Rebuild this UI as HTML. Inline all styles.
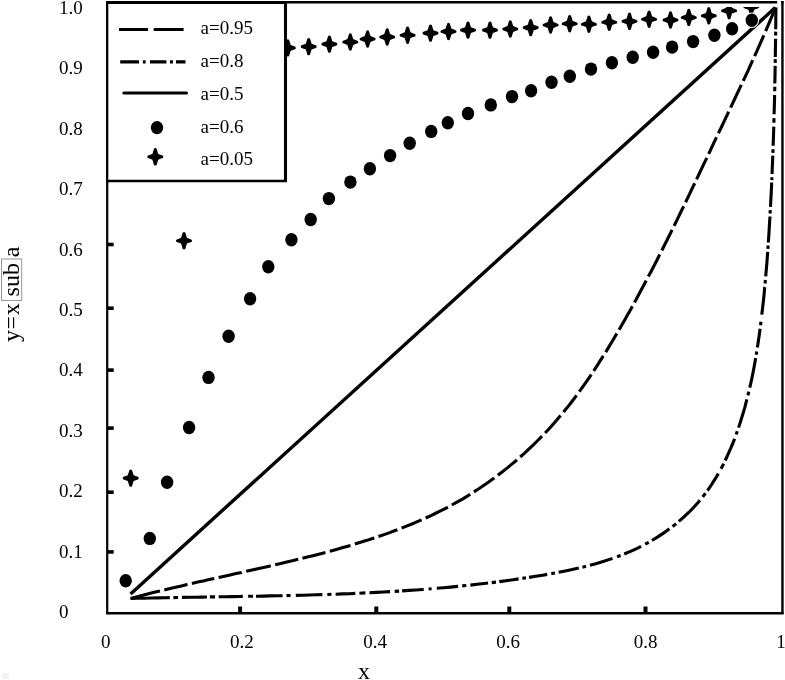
<!DOCTYPE html>
<html lang="en"><head><meta charset="utf-8"><title>y = x sub a</title>
<style>html,body{margin:0;padding:0;background:#fff}svg{display:block}text{font-family:"Liberation Serif","Times New Roman",serif;fill:#000}</style></head><body>
<svg width="785" height="680" viewBox="0 0 785 680">
<rect width="785" height="680" fill="#fff"/>
<rect x="2" y="673" width="6.5" height="6" fill="#f4f4f4"/>
<defs>
<clipPath id="cp"><rect x="108" y="6.9" width="672" height="606"/></clipPath>
</defs>
<g stroke="#000" fill="none">
<line x1="107.2" y1="1" x2="107.2" y2="614" stroke-width="2.2"/>
<line x1="106.1" y1="613.2" x2="783.6" y2="613.2" stroke-width="2.6"/>
<line x1="782.45" y1="1" x2="782.45" y2="614" stroke-width="2.4"/>
<line x1="106.2" y1="2.3" x2="777.2" y2="2.3" stroke-width="2.6"/>
<line x1="781" y1="2.3" x2="783.4" y2="2.3" stroke-width="2.6"/>
</g>
<g fill="#000">
<rect x="108" y="550.1" width="5.7" height="3.6"/>
<rect x="108" y="490.4" width="5.7" height="3.6"/>
<rect x="108" y="426.3" width="5.7" height="3.6"/>
<rect x="108" y="368.3" width="5.7" height="3.6"/>
<rect x="108" y="306.4" width="5.7" height="3.6"/>
<rect x="108" y="242.7" width="5.7" height="3.6"/>
<rect x="238.1" y="606.5" width="4" height="6"/>
<rect x="374.3" y="606.5" width="4" height="6"/>
<rect x="507.3" y="606.5" width="4" height="6"/>
<rect x="643.5" y="606.5" width="4" height="6"/>
</g>
<g stroke="#000" fill="none" stroke-width="3.1">
<line x1="130.6" y1="593.9" x2="775.3" y2="7.6" stroke-width="3.4"/>
<path d="M130.6 598.5 L136.2 597 L141.9 595.5 L147.5 594.1 L153.2 592.6 L158.8 591.2 L160 590.9 M164.3 589.9 L170 588.5 L175.7 587.2 L181.4 585.9 L187.1 584.5 L187.5 584.4 M191.9 583.4 L197.6 582.1 L203.3 580.9 L209 579.6 L214.3 578.4 M218.6 577.4 L224.4 576.2 L230.1 574.9 L235.9 573.6 L241.6 572.4 L241.8 572.3 M246.2 571.3 L252 570.1 L257.7 568.8 L263.5 567.5 L269.2 566.2 L270.8 565.8 M275.2 564.8 L280.9 563.5 L286.7 562.1 L292.4 560.7 L298.2 559.3 M302.5 558.3 L308.3 556.8 L314 555.4 L319.7 553.9 L325.4 552.4 M329.8 551.2 L335.5 549.7 L341.2 548.1 L346.9 546.4 L350.5 545.4 M354.9 544.1 L360.5 542.3 L366.2 540.6 L371.8 538.7 L374.3 537.9 M378.5 536.5 L384.1 534.6 L389.7 532.6 L395.2 530.5 L397.4 529.7 M401.6 528.1 L407.1 525.9 L412.5 523.7 L417.9 521.4 L421.6 519.8 M425.6 518 L431 515.6 L436.2 513 L441.5 510.4 L446.7 507.8 L447.9 507.1 M451.8 505 L456.9 502.2 L462 499.3 L467 496.3 L470.2 494.3 M473.9 491.9 L478.8 488.8 L483.6 485.5 L488.4 482.2 L493.1 478.8 L494.3 477.9 M497.8 475.3 L502.4 471.7 L507 468.1 L511.5 464.4 L516 460.7 L516.9 459.9 M520.2 457 L524.6 453.1 L528.8 449.1 L533.1 445.1 L537.2 441 L541.3 436.9 L542 436.2 M545.1 433 L549.1 428.7 L553 424.4 L556.8 420 L560.6 415.5 M563.5 412.1 L567.2 407.6 L570.8 403 L574.4 398.3 L576.6 395.3 M579.3 391.7 L582.7 386.9 L586.1 382.1 L589.4 377.3 L591.3 374.5 M593.7 370.8 L597 365.9 L600.1 360.9 L603.3 355.9 M605.7 352.1 L608.7 347.1 L611.8 342 L614.8 337 L616.8 333.5 M619.1 329.7 L622.1 324.5 L625 319.4 L627.9 314.3 L630.8 309.2 L632.4 306.3 M634.5 302.4 L637.3 297.2 L640.1 292 L642.9 286.8 L645.7 281.6 L646.2 280.6 M648.3 276.6 L651.1 271.4 L653.8 266.2 L656.5 261 L659.1 255.7 L659.8 254.5 M661.8 250.5 L664.4 245.2 L667.1 240 L669.7 234.7 L672.1 229.9 M674.1 225.9 L676.7 220.6 L679.2 215.3 L681.8 210 L683.7 206.2 M685.6 202.2 L688.2 196.9 L690.7 191.6 L693.2 186.3 L694.7 183.3 M696.6 179.3 L699.1 174 L701.6 168.7 L704.1 163.4 L706.7 158.1 L706.8 157.9 M708.7 153.8 L711.2 148.5 L713.7 143.2 L716.2 137.9 L716.5 137.3 M718.4 133.3 L721 128 L723.5 122.7 L726 117.4 L728.5 112.1 L728.7 111.7 M730.6 107.6 L733.1 102.3 L735.6 97 L738.1 91.7 L740.6 86.4 L741.3 84.9 M743.2 80.9 L745.7 75.6 L748.2 70.3 L750.6 64.9 L752.7 60.2 M754.6 56.2 L757 50.8 L759.4 45.4 L761.7 40.1 L763.8 35.3 M765.6 31.2 L767.9 25.8 L770.2 20.4 L772.5 15 L774.7 9.6 L775.5 7.6"/>
<path d="M130.6 598.5 L137.5 598.3 L144.3 598.2 L151.2 598 L158 597.9 L164.9 597.7 L169.8 597.6 M173.4 597.6 L178.1 597.5 M181.9 597.4 L188.8 597.3 L195.6 597.2 L202.5 597.1 L206.9 597 M209.9 596.9 L215.1 596.9 M218.7 596.8 L225.6 596.7 L232.4 596.6 L239.3 596.5 L242.8 596.4 M248.1 596.3 L253 596.2 M256 596.2 L262.9 596.1 L269.7 595.9 L276.6 595.8 L282.6 595.7 M286.5 595.6 L290.6 595.5 M295.8 595.4 L302.7 595.2 L309.5 595 L316.4 594.8 L322.4 594.6 M327.3 594.5 L331.5 594.3 M335.6 594.2 L342.4 593.9 L349.3 593.7 L355.3 593.4 M359.4 593.2 L365.4 592.9 M369.5 592.7 L376.4 592.4 L383.2 592 L390.1 591.6 M394.7 591.4 L399.1 591.1 M402.1 590.9 L408.9 590.4 L415.8 590 L422.6 589.5 L423.7 589.4 M428.6 589 L431.6 588.7 M436.8 588.3 L443.7 587.7 L450.5 587.1 L457.3 586.4 L458.1 586.4 M462.2 585.9 L466.3 585.5 M470.4 585.1 L477.2 584.3 L484 583.5 L488.1 583 M491.7 582.6 L496 582.1 M499.3 581.6 L506.1 580.7 L512.9 579.8 L518.6 578.9 M522.4 578.4 L526 577.8 M529 577.4 L535.8 576.3 L542.6 575.2 L547.2 574.4 M551.3 573.6 L555 573 M558.6 572.3 L565.3 571 L572.1 569.6 L578.8 568 M582.5 567.2 L586 566.3 M590 565.3 L596.6 563.5 L603.1 561.5 L609.6 559.4 L612.5 558.5 M617.1 556.8 L620.6 555.5 M624.2 554 L630.5 551.4 L636.7 548.6 L641.1 546.4 M645.2 544.2 L648.8 542.3 M651.9 540.5 L657.8 536.9 L663.5 533.1 L669.1 529.1 L669.4 528.9 M672.6 526.5 L676.1 523.7 M678.8 521.4 L684 516.9 L689 512.2 L693.8 507.2 L698.3 502.2 L699.9 500.3 M702.7 496.9 L705.5 493.2 M707.5 490.6 L711.3 485 L715 479.2 L718.3 473.6 M721 468.8 L723.7 463.7 M725.2 460.5 L728.1 454.2 L730.9 447.9 L733.5 441.6 L734.6 438.7 M736.1 434.6 L737.3 431.2 M738.6 427.6 L740.7 421 L742.7 414.5 L744.7 407.9 L746.4 401.2 L746.9 399.4 M747.9 395.4 L748.8 391.7 M749.8 387.7 L751.3 381 L752.7 374.3 L754 367.5 L755.2 360.8 L755.7 358.1 M756.2 354.8 L756.7 351.6 M757.4 347.5 L758.4 340.7 L759.4 333.9 L760.1 328.8 M760.5 325.2 L761 321.7 M761.8 314.6 L762.6 307.8 L763.4 301 L764.1 294.2 L764.7 287.4 L764.8 287.1 M765.1 283.5 L765.4 280 M765.7 276.4 L766.3 269.6 L766.9 262.8 L767.4 255.9 L767.7 251.8 M767.9 248.8 L768.1 245.5 M768.3 242.5 L768.8 235.7 L769.2 228.8 L769.6 222 L770 216.5 M770.1 213.5 L770.3 210.2 M770.5 206.9 L770.8 200.1 L771.2 193.2 L771.5 186.4 L771.7 182.5 M771.8 180.1 L771.9 177.3 M772.1 174 L772.3 167.2 L772.6 160.3 L772.8 155.6 M772.9 152.9 L773 149.3 M773.1 145.8 L773.4 138.9 L773.6 132.1 L773.8 126.6 M773.9 122.7 L774 118.1 M774.1 114.2 L774.3 107.4 L774.5 100.5 L774.6 95 M774.7 91.2 L774.8 86.8 M774.8 83.5 L775 76.6 L775.1 69.8 L775.2 65.9 M775.2 62.9 L775.3 59.1 M775.3 56.9 L775.4 50 L775.5 43.2 L775.6 38.8 M775.6 35.5 L775.7 31.6 M775.7 29.2 L775.8 22.3 L775.8 15.5 L775.9 8.6 L775.9 7.5"/>
</g>
<g clip-path="url(#cp)">
<path transform="translate(130.7 478.1)" d="M1.6 -7.1A1.6 1.6 0 0 0 -1.6 -7.1L-2.9 -2.9L-6.45 -1.55A1.55 1.55 0 0 0 -6.45 1.55L-2.9 2.9L-1.6 7.1A1.6 1.6 0 0 0 1.6 7.1L2.9 2.9L6.45 1.55A1.55 1.55 0 0 0 6.45 -1.55L2.9 -2.9Z"/>
<path transform="translate(184 240.7)" d="M1.6 -7.1A1.6 1.6 0 0 0 -1.6 -7.1L-2.9 -2.9L-6.45 -1.55A1.55 1.55 0 0 0 -6.45 1.55L-2.9 2.9L-1.6 7.1A1.6 1.6 0 0 0 1.6 7.1L2.9 2.9L6.45 1.55A1.55 1.55 0 0 0 6.45 -1.55L2.9 -2.9Z"/>
<path transform="translate(287.8 47.9)" d="M1.6 -7.1A1.6 1.6 0 0 0 -1.6 -7.1L-2.9 -2.9L-6.45 -1.55A1.55 1.55 0 0 0 -6.45 1.55L-2.9 2.9L-1.6 7.1A1.6 1.6 0 0 0 1.6 7.1L2.9 2.9L6.45 1.55A1.55 1.55 0 0 0 6.45 -1.55L2.9 -2.9Z"/>
<path transform="translate(308.7 46.6)" d="M1.6 -7.1A1.6 1.6 0 0 0 -1.6 -7.1L-2.9 -2.9L-6.45 -1.55A1.55 1.55 0 0 0 -6.45 1.55L-2.9 2.9L-1.6 7.1A1.6 1.6 0 0 0 1.6 7.1L2.9 2.9L6.45 1.55A1.55 1.55 0 0 0 6.45 -1.55L2.9 -2.9Z"/>
<path transform="translate(329.4 44.1)" d="M1.6 -7.1A1.6 1.6 0 0 0 -1.6 -7.1L-2.9 -2.9L-6.45 -1.55A1.55 1.55 0 0 0 -6.45 1.55L-2.9 2.9L-1.6 7.1A1.6 1.6 0 0 0 1.6 7.1L2.9 2.9L6.45 1.55A1.55 1.55 0 0 0 6.45 -1.55L2.9 -2.9Z"/>
<path transform="translate(350.3 42)" d="M1.6 -7.1A1.6 1.6 0 0 0 -1.6 -7.1L-2.9 -2.9L-6.45 -1.55A1.55 1.55 0 0 0 -6.45 1.55L-2.9 2.9L-1.6 7.1A1.6 1.6 0 0 0 1.6 7.1L2.9 2.9L6.45 1.55A1.55 1.55 0 0 0 6.45 -1.55L2.9 -2.9Z"/>
<path transform="translate(367.6 39)" d="M1.6 -7.1A1.6 1.6 0 0 0 -1.6 -7.1L-2.9 -2.9L-6.45 -1.55A1.55 1.55 0 0 0 -6.45 1.55L-2.9 2.9L-1.6 7.1A1.6 1.6 0 0 0 1.6 7.1L2.9 2.9L6.45 1.55A1.55 1.55 0 0 0 6.45 -1.55L2.9 -2.9Z"/>
<path transform="translate(387.2 37)" d="M1.6 -7.1A1.6 1.6 0 0 0 -1.6 -7.1L-2.9 -2.9L-6.45 -1.55A1.55 1.55 0 0 0 -6.45 1.55L-2.9 2.9L-1.6 7.1A1.6 1.6 0 0 0 1.6 7.1L2.9 2.9L6.45 1.55A1.55 1.55 0 0 0 6.45 -1.55L2.9 -2.9Z"/>
<path transform="translate(407.6 35.2)" d="M1.6 -7.1A1.6 1.6 0 0 0 -1.6 -7.1L-2.9 -2.9L-6.45 -1.55A1.55 1.55 0 0 0 -6.45 1.55L-2.9 2.9L-1.6 7.1A1.6 1.6 0 0 0 1.6 7.1L2.9 2.9L6.45 1.55A1.55 1.55 0 0 0 6.45 -1.55L2.9 -2.9Z"/>
<path transform="translate(430.5 33.1)" d="M1.6 -7.1A1.6 1.6 0 0 0 -1.6 -7.1L-2.9 -2.9L-6.45 -1.55A1.55 1.55 0 0 0 -6.45 1.55L-2.9 2.9L-1.6 7.1A1.6 1.6 0 0 0 1.6 7.1L2.9 2.9L6.45 1.55A1.55 1.55 0 0 0 6.45 -1.55L2.9 -2.9Z"/>
<path transform="translate(448.5 31.5)" d="M1.6 -7.1A1.6 1.6 0 0 0 -1.6 -7.1L-2.9 -2.9L-6.45 -1.55A1.55 1.55 0 0 0 -6.45 1.55L-2.9 2.9L-1.6 7.1A1.6 1.6 0 0 0 1.6 7.1L2.9 2.9L6.45 1.55A1.55 1.55 0 0 0 6.45 -1.55L2.9 -2.9Z"/>
<path transform="translate(468 30.1)" d="M1.6 -7.1A1.6 1.6 0 0 0 -1.6 -7.1L-2.9 -2.9L-6.45 -1.55A1.55 1.55 0 0 0 -6.45 1.55L-2.9 2.9L-1.6 7.1A1.6 1.6 0 0 0 1.6 7.1L2.9 2.9L6.45 1.55A1.55 1.55 0 0 0 6.45 -1.55L2.9 -2.9Z"/>
<path transform="translate(490 30.1)" d="M1.6 -7.1A1.6 1.6 0 0 0 -1.6 -7.1L-2.9 -2.9L-6.45 -1.55A1.55 1.55 0 0 0 -6.45 1.55L-2.9 2.9L-1.6 7.1A1.6 1.6 0 0 0 1.6 7.1L2.9 2.9L6.45 1.55A1.55 1.55 0 0 0 6.45 -1.55L2.9 -2.9Z"/>
<path transform="translate(510.3 29)" d="M1.6 -7.1A1.6 1.6 0 0 0 -1.6 -7.1L-2.9 -2.9L-6.45 -1.55A1.55 1.55 0 0 0 -6.45 1.55L-2.9 2.9L-1.6 7.1A1.6 1.6 0 0 0 1.6 7.1L2.9 2.9L6.45 1.55A1.55 1.55 0 0 0 6.45 -1.55L2.9 -2.9Z"/>
<path transform="translate(530.7 27.6)" d="M1.6 -7.1A1.6 1.6 0 0 0 -1.6 -7.1L-2.9 -2.9L-6.45 -1.55A1.55 1.55 0 0 0 -6.45 1.55L-2.9 2.9L-1.6 7.1A1.6 1.6 0 0 0 1.6 7.1L2.9 2.9L6.45 1.55A1.55 1.55 0 0 0 6.45 -1.55L2.9 -2.9Z"/>
<path transform="translate(550.6 25)" d="M1.6 -7.1A1.6 1.6 0 0 0 -1.6 -7.1L-2.9 -2.9L-6.45 -1.55A1.55 1.55 0 0 0 -6.45 1.55L-2.9 2.9L-1.6 7.1A1.6 1.6 0 0 0 1.6 7.1L2.9 2.9L6.45 1.55A1.55 1.55 0 0 0 6.45 -1.55L2.9 -2.9Z"/>
<path transform="translate(569.7 23.7)" d="M1.6 -7.1A1.6 1.6 0 0 0 -1.6 -7.1L-2.9 -2.9L-6.45 -1.55A1.55 1.55 0 0 0 -6.45 1.55L-2.9 2.9L-1.6 7.1A1.6 1.6 0 0 0 1.6 7.1L2.9 2.9L6.45 1.55A1.55 1.55 0 0 0 6.45 -1.55L2.9 -2.9Z"/>
<path transform="translate(588.9 24.2)" d="M1.6 -7.1A1.6 1.6 0 0 0 -1.6 -7.1L-2.9 -2.9L-6.45 -1.55A1.55 1.55 0 0 0 -6.45 1.55L-2.9 2.9L-1.6 7.1A1.6 1.6 0 0 0 1.6 7.1L2.9 2.9L6.45 1.55A1.55 1.55 0 0 0 6.45 -1.55L2.9 -2.9Z"/>
<path transform="translate(609.2 22.2)" d="M1.6 -7.1A1.6 1.6 0 0 0 -1.6 -7.1L-2.9 -2.9L-6.45 -1.55A1.55 1.55 0 0 0 -6.45 1.55L-2.9 2.9L-1.6 7.1A1.6 1.6 0 0 0 1.6 7.1L2.9 2.9L6.45 1.55A1.55 1.55 0 0 0 6.45 -1.55L2.9 -2.9Z"/>
<path transform="translate(629.5 21.3)" d="M1.6 -7.1A1.6 1.6 0 0 0 -1.6 -7.1L-2.9 -2.9L-6.45 -1.55A1.55 1.55 0 0 0 -6.45 1.55L-2.9 2.9L-1.6 7.1A1.6 1.6 0 0 0 1.6 7.1L2.9 2.9L6.45 1.55A1.55 1.55 0 0 0 6.45 -1.55L2.9 -2.9Z"/>
<path transform="translate(649.1 19.2)" d="M1.6 -7.1A1.6 1.6 0 0 0 -1.6 -7.1L-2.9 -2.9L-6.45 -1.55A1.55 1.55 0 0 0 -6.45 1.55L-2.9 2.9L-1.6 7.1A1.6 1.6 0 0 0 1.6 7.1L2.9 2.9L6.45 1.55A1.55 1.55 0 0 0 6.45 -1.55L2.9 -2.9Z"/>
<path transform="translate(670.5 20)" d="M1.6 -7.1A1.6 1.6 0 0 0 -1.6 -7.1L-2.9 -2.9L-6.45 -1.55A1.55 1.55 0 0 0 -6.45 1.55L-2.9 2.9L-1.6 7.1A1.6 1.6 0 0 0 1.6 7.1L2.9 2.9L6.45 1.55A1.55 1.55 0 0 0 6.45 -1.55L2.9 -2.9Z"/>
<path transform="translate(688.8 17.5)" d="M1.6 -7.1A1.6 1.6 0 0 0 -1.6 -7.1L-2.9 -2.9L-6.45 -1.55A1.55 1.55 0 0 0 -6.45 1.55L-2.9 2.9L-1.6 7.1A1.6 1.6 0 0 0 1.6 7.1L2.9 2.9L6.45 1.55A1.55 1.55 0 0 0 6.45 -1.55L2.9 -2.9Z"/>
<path transform="translate(708.8 15.8)" d="M1.6 -7.1A1.6 1.6 0 0 0 -1.6 -7.1L-2.9 -2.9L-6.45 -1.55A1.55 1.55 0 0 0 -6.45 1.55L-2.9 2.9L-1.6 7.1A1.6 1.6 0 0 0 1.6 7.1L2.9 2.9L6.45 1.55A1.55 1.55 0 0 0 6.45 -1.55L2.9 -2.9Z"/>
<path transform="translate(729.1 10.7)" d="M1.6 -7.1A1.6 1.6 0 0 0 -1.6 -7.1L-2.9 -2.9L-6.45 -1.55A1.55 1.55 0 0 0 -6.45 1.55L-2.9 2.9L-1.6 7.1A1.6 1.6 0 0 0 1.6 7.1L2.9 2.9L6.45 1.55A1.55 1.55 0 0 0 6.45 -1.55L2.9 -2.9Z"/>
<path transform="translate(751.3 6.9)" d="M1.6 -7.1A1.6 1.6 0 0 0 -1.6 -7.1L-2.9 -2.9L-6.45 -1.55A1.55 1.55 0 0 0 -6.45 1.55L-2.9 2.9L-1.6 7.1A1.6 1.6 0 0 0 1.6 7.1L2.9 2.9L6.45 1.55A1.55 1.55 0 0 0 6.45 -1.55L2.9 -2.9Z"/>
<g fill="#000" stroke="#fff" stroke-width="2.2" paint-order="stroke">
<ellipse cx="125.7" cy="580.7" rx="6.2" ry="6.7"/>
<ellipse cx="149.8" cy="538.4" rx="6.2" ry="6.7"/>
<ellipse cx="167.1" cy="482.3" rx="6.2" ry="6.7"/>
<ellipse cx="189.1" cy="427.5" rx="6.2" ry="6.7"/>
<ellipse cx="208.5" cy="377.4" rx="6.2" ry="6.7"/>
<ellipse cx="228.6" cy="336.3" rx="6.2" ry="6.7"/>
<ellipse cx="250.1" cy="298.7" rx="6.2" ry="6.7"/>
<ellipse cx="268.3" cy="266.8" rx="6.2" ry="6.7"/>
<ellipse cx="291.4" cy="239.7" rx="6.2" ry="6.7"/>
<ellipse cx="310.7" cy="219.5" rx="6.2" ry="6.7"/>
<ellipse cx="328.9" cy="198.6" rx="6.2" ry="6.7"/>
<ellipse cx="350.4" cy="182.1" rx="6.2" ry="6.7"/>
<ellipse cx="369.9" cy="168.8" rx="6.2" ry="6.7"/>
<ellipse cx="390.1" cy="155.6" rx="6.2" ry="6.7"/>
<ellipse cx="409.7" cy="143.3" rx="6.2" ry="6.7"/>
<ellipse cx="431.2" cy="131.4" rx="6.2" ry="6.7"/>
<ellipse cx="447.8" cy="122.8" rx="6.2" ry="6.7"/>
<ellipse cx="468" cy="113.5" rx="6.2" ry="6.7"/>
<ellipse cx="490.8" cy="104.9" rx="6.2" ry="6.7"/>
<ellipse cx="512" cy="96.6" rx="6.2" ry="6.7"/>
<ellipse cx="531.1" cy="90.7" rx="6.2" ry="6.7"/>
<ellipse cx="551.5" cy="82.3" rx="6.2" ry="6.7"/>
<ellipse cx="569.8" cy="76.2" rx="6.2" ry="6.7"/>
<ellipse cx="591" cy="69.1" rx="6.2" ry="6.7"/>
<ellipse cx="611.9" cy="62.7" rx="6.2" ry="6.7"/>
<ellipse cx="632.7" cy="57.3" rx="6.2" ry="6.7"/>
<ellipse cx="653.1" cy="52.3" rx="6.2" ry="6.7"/>
<ellipse cx="672.1" cy="47.1" rx="6.2" ry="6.7"/>
<ellipse cx="693.1" cy="41.6" rx="6.2" ry="6.7"/>
<ellipse cx="714.4" cy="35.3" rx="6.2" ry="6.7"/>
<ellipse cx="732.1" cy="28.7" rx="6.2" ry="6.7"/>
<ellipse cx="751.8" cy="20.2" rx="6.2" ry="6.7"/>
</g>
</g>
<rect x="107" y="2.5" width="178.5" height="178.5" fill="#fff"/>
<g stroke="#000" fill="none">
<line x1="106.1" y1="2.55" x2="287" y2="2.55" stroke-width="3.1"/>
<line x1="285.5" y1="1" x2="285.5" y2="182.1" stroke-width="3.05"/>
<line x1="106.1" y1="181" x2="287" y2="181" stroke-width="2.3"/>
<line x1="107.2" y1="1" x2="107.2" y2="183" stroke-width="2.2"/>
</g>
<g stroke="#000" fill="none" stroke-width="3.2">
<path d="M119 29.5H148M153.7 29.5H183.6"/>
<path d="M120.2 61.8H139M142.9 61.8H145.6M149.9 61.8H166.4M170 61.8H172.9M176 61.8H185.5"/>
<path d="M123.8 93.1H186.5" stroke-width="3" stroke-linecap="round"/>
</g>
<ellipse cx="157" cy="127.6" rx="6.2" ry="6.6" fill="#000"/>
<path transform="translate(155.3 156.8)" d="M1.6 -7.1A1.6 1.6 0 0 0 -1.6 -7.1L-2.9 -2.9L-6.45 -1.55A1.55 1.55 0 0 0 -6.45 1.55L-2.9 2.9L-1.6 7.1A1.6 1.6 0 0 0 1.6 7.1L2.9 2.9L6.45 1.55A1.55 1.55 0 0 0 6.45 -1.55L2.9 -2.9Z"/>
<g font-size="19">
<text x="200.6" y="34">a=0.95</text>
<text x="200.6" y="66.8">a=0.8</text>
<text x="200.6" y="99.7">a=0.5</text>
<text x="200.6" y="132.6">a=0.6</text>
<text x="200.6" y="165.4">a=0.05</text>
</g>
<g font-size="19">
<text x="59" y="618.1">0</text>
<text x="59" y="557.7">0.1</text>
<text x="59" y="497.3">0.2</text>
<text x="59" y="436.8">0.3</text>
<text x="59" y="376.4">0.4</text>
<text x="59" y="316">0.5</text>
<text x="59" y="255.6">0.6</text>
<text x="59" y="195.2">0.7</text>
<text x="59" y="134.7">0.8</text>
<text x="59" y="74.3">0.9</text>
<text x="59" y="13.9">1.0</text>
<text x="105.7" y="648" text-anchor="middle">0</text>
<text x="241.8" y="648" text-anchor="middle">0.2</text>
<text x="375.2" y="648" text-anchor="middle">0.4</text>
<text x="508" y="648" text-anchor="middle">0.6</text>
<text x="645.5" y="648" text-anchor="middle">0.8</text>
<text x="781" y="648" text-anchor="middle">1</text>
</g>
<text x="358" y="679" font-size="24">x</text>
<g transform="translate(19.1 341.8) rotate(-90)" font-size="24">
<text x="-0.3" y="0" letter-spacing="0.6">y=x</text>
<rect x="41.4" y="-17.6" width="41.4" height="20.2" fill="none" stroke="#8c8c8c" stroke-width="0.9"/>
<text x="45.4" y="0">sub</text>
<text x="84.5" y="0">a</text>
</g>
</svg></body></html>
